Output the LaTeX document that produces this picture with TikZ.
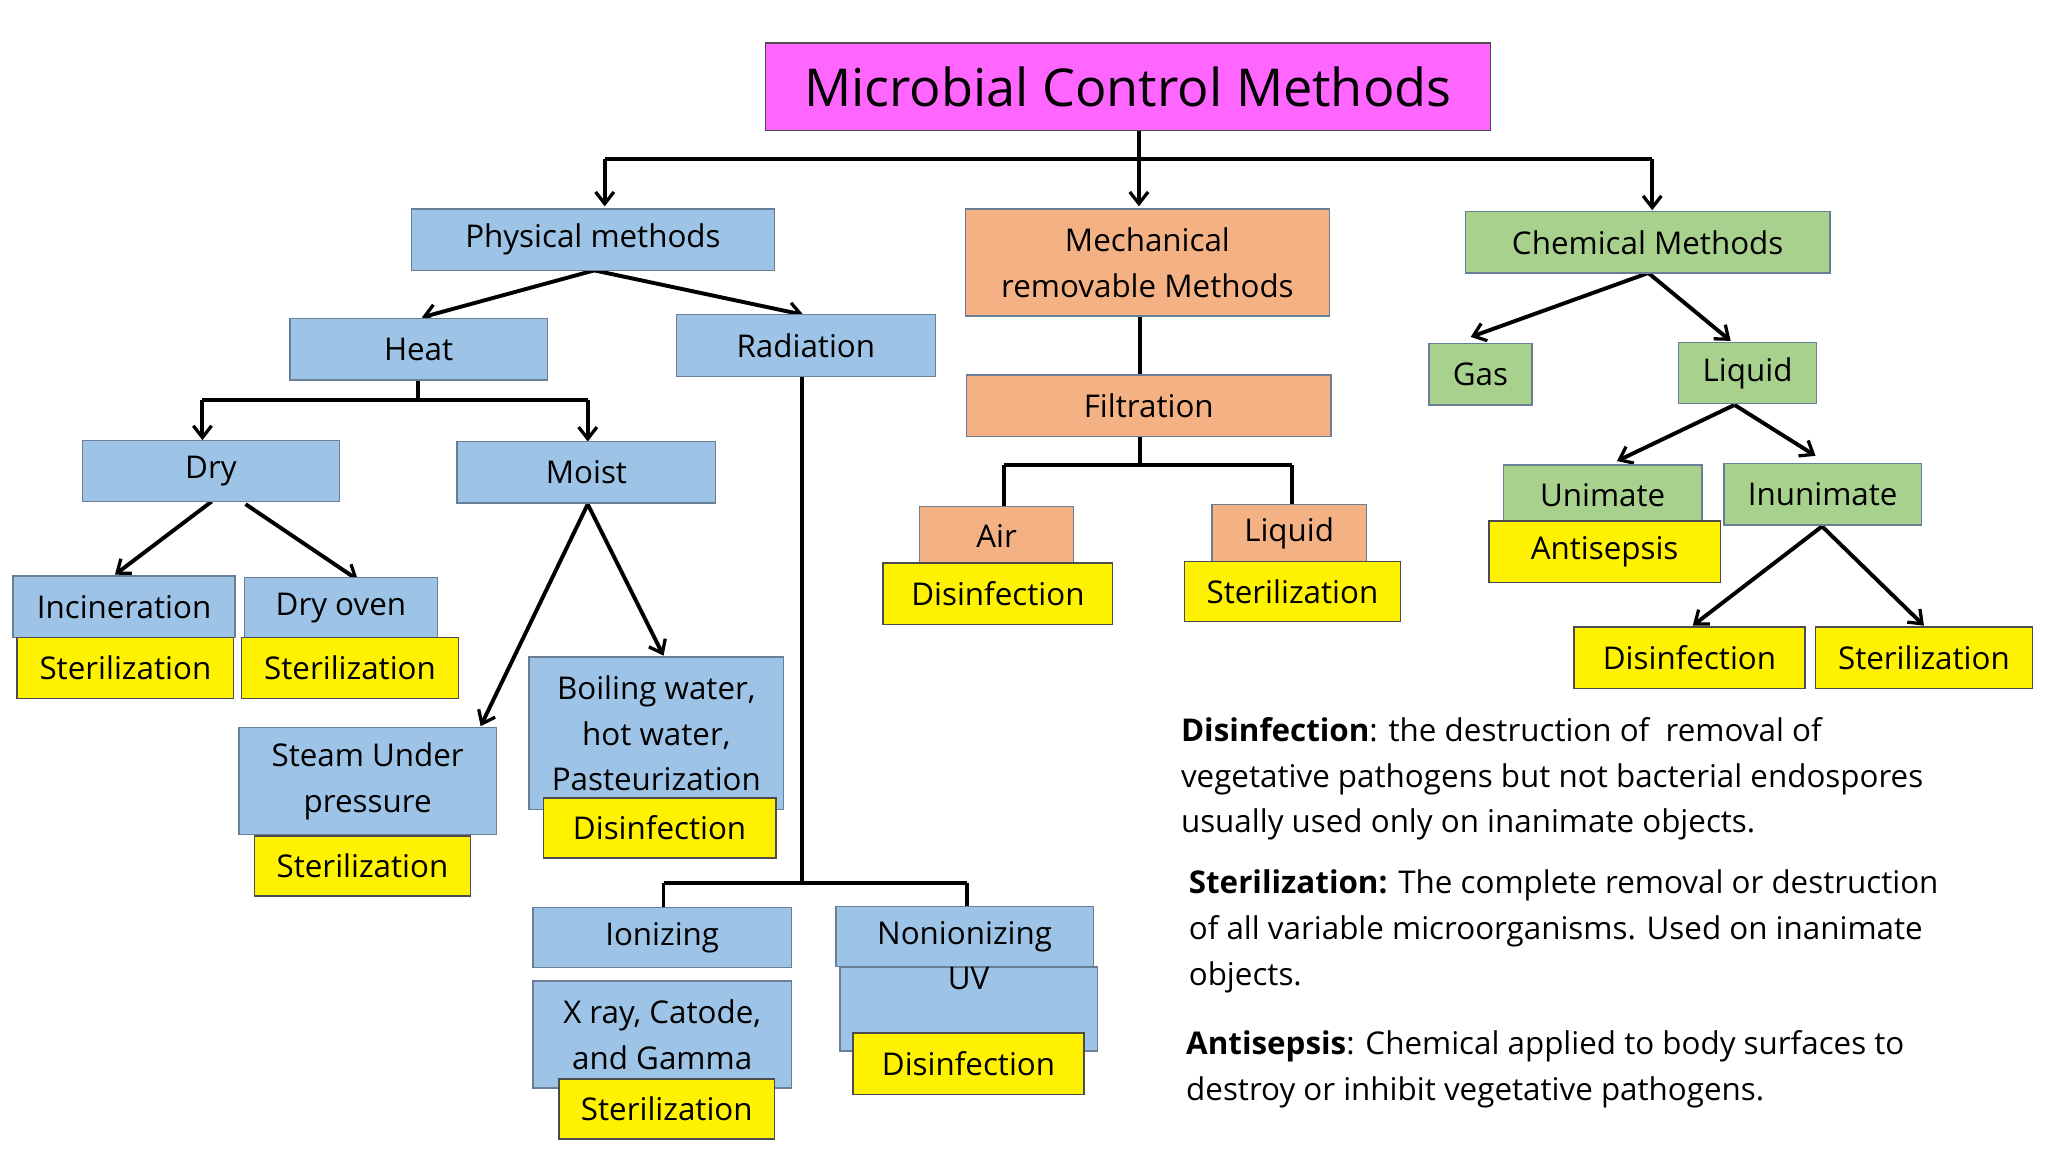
\documentclass[tikz,border=0pt]{standalone}
\usepackage{fontspec}
\setmainfont{Open Sans}
\usetikzlibrary{arrows.meta}
\definecolor{bl}{HTML}{9DC3E6}
\definecolor{og}{HTML}{F4B183}
\definecolor{gr}{HTML}{A9D18E}
\definecolor{mg}{HTML}{FF66FF}
\definecolor{bd}{HTML}{6A7F95}
\tikzset{
 box/.style={draw=bd,line width=1pt,inner sep=0pt,align=center,font=\fontsize{24}{35}\selectfont},
 B/.style={box,fill=bl}, O/.style={box,fill=og}, G/.style={box,fill=gr},
 Y/.style={box,fill=yellow,draw=black!70},
 M/.style={box,fill=mg,draw=black!70,font=\fontsize{40}{48}\selectfont},
 ln/.style={line width=3pt,black},
 arr/.style={ln,-{Straight Barb[length=9pt,width=14pt,line width=2.5pt]}},
 def/.style={anchor=north west,align=left,inner sep=0pt,font=\fontsize{24}{35}\selectfont}
}
\newcommand\bx[7]{\node[#6,minimum width={(#4-#2)*1pt},minimum height={(#5-#3)*1pt}] (#1) at ({(#2+#4)/2},{(#3+#5)/2}) {#7};}
\begin{document}
\begin{tikzpicture}[x=1pt,y=-1pt]
\useasboundingbox[fill=white] (0,0) rectangle (1568,882);
% connectors
\coordinate (t1) at (463,122); \coordinate (t2) at (1265,122);
\draw[ln] (872,100) coordinate (ts) -- (872,122);
\draw[ln] (t1) -- (t2);
\draw[arr] (t1) -- (463,158) coordinate (pA);
\draw[arr] (872,122) -- (872,158) coordinate (mA);
\draw[arr] (t2) -- (1265,161) coordinate (cA);
\coordinate (ps) at (455,207);
\draw[arr] (ps) -- (323,243) coordinate (hA);
\draw[arr] (ps) -- (615,241) coordinate (rA);
\draw[ln] (320,291) coordinate (hs) -- (320,306) coordinate (hb);
\draw[ln] (155,306) coordinate (hL) -- (450,306) coordinate (hR);
\draw[arr] (hL) -- (155,337) coordinate (dA);
\draw[arr] (hR) -- (450,338) coordinate (mo);
\coordinate (ds) at (162,384);
\draw[arr] (ds) -- (88,440); \draw[arr] (188,386) -- (274,444);
\coordinate (ms) at (450,386);
\draw[arr] (ms) -- (368,556); \draw[arr] (ms) -- (508,502);
\draw[ln] (614,288) coordinate (rs) -- (614,676) coordinate (rb);
\draw[ln] (508,676) coordinate (rL) -- (740,676) coordinate (rR);
\draw[ln] (rL) -- (508,696); \draw[ln] (rR) -- (740,695);
\draw[ln] (873,242) coordinate (mes) -- (873,287) coordinate (fA);
\draw[ln] (873,334) coordinate (fs) -- (873,356);
\draw[ln] (769,356) coordinate (fL) -- (989,356) coordinate (fR);
\draw[ln] (fL) -- (769,389); \draw[ln] (fR) -- (989,387);
\coordinate (cs) at (1262,209);
\draw[arr] (cs) -- (1126,258); \draw[arr] (cs) -- (1325,261);
\coordinate (ls) at (1328,310);
\draw[arr] (ls) -- (1238,353); \draw[arr] (ls) -- (1390,349);
\coordinate (is) at (1395,403);
\draw[arr] (is) -- (1296,479); \draw[arr] (is) -- (1473,479);
% boxes
\bx{title}{586}{33}{1141}{100}{M}{Microbial Control Methods}
\bx{phys}{315}{160}{593}{207}{B}{Physical methods}
\bx{mech}{739}{160}{1018}{242}{O}{Mechanical\\removable Methods}
\bx{chem}{1122}{162}{1401}{209}{G}{Chemical Methods}
\bx{heat}{222}{244}{419}{291}{B}{Heat}
\bx{rad}{518}{241}{716}{288}{B}{Radiation}
\bx{dry}{63}{337}{260}{384}{B}{Dry}
\bx{moist}{350}{338}{548}{385}{B}{Moist}
\bx{inc}{10}{441}{180}{488}{B}{Incineration}
\bx{incS}{13}{488}{179}{535}{Y}{Sterilization}
\bx{oven}{187}{442}{335}{489}{B}{Dry oven}
\bx{ovenS}{185}{488}{351}{535}{Y}{Sterilization}
\bx{steam}{183}{557}{380}{639}{B}{Steam Under\\pressure}
\bx{steamS}{195}{640}{360}{686}{Y}{Sterilization}
\bx{boil}{405}{503}{600}{620}{B}{Boiling water,\\hot water,\\Pasteurization}
\bx{boilD}{416}{611}{594}{657}{Y}{Disinfection}
\bx{filt}{740}{287}{1019}{334}{O}{Filtration}
\bx{air}{704}{388}{822}{433}{O}{Air}
\bx{airD}{676}{431}{852}{478}{Y}{Disinfection}
\bx{liq}{928}{386}{1046}{431}{O}{Liquid}
\bx{liqS}{907}{430}{1072}{476}{Y}{Sterilization}
\bx{gas}{1094}{263}{1173}{310}{G}{Gas}
\bx{cliq}{1285}{262}{1391}{309}{G}{Liquid}
\bx{uni}{1151}{356}{1303}{402}{G}{Unimate}
\bx{uniA}{1140}{399}{1317}{446}{Y}{Antisepsis}
\bx{inu}{1320}{355}{1471}{402}{G}{Inunimate}
\bx{inuD}{1205}{480}{1382}{527}{Y}{Disinfection}
\bx{inuS}{1390}{480}{1556}{527}{Y}{Sterilization}
\bx{ion}{408}{695}{606}{741}{B}{Ionizing}
\bx{xray}{408}{751}{606}{833}{B}{X ray, Catode,\\and Gamma}
\bx{xrayS}{428}{826}{593}{872}{Y}{Sterilization}
\bx{non}{640}{694}{837}{740}{B}{Nonionizing}
\bx{uv}{643}{749}{840}{796}{B}{\raisebox{2pt}{UV}\\[10pt]}
\bx{uvD}{653}{791}{830}{838}{Y}{Disinfection}
% definitions
\node[def] (d1) at (904,549) {\textbf{Disinfection}: the destruction of\ \ removal of\\vegetative pathogens but not bacterial endospores\\usually used only on inanimate objects.};
\node[def] (d2) at (910,666) {\textbf{Sterilization:} The complete removal or destruction\\of all variable microorganisms. Used on inanimate\\objects.};
\node[def] (d3) at (908,789) {\textbf{Antisepsis}: Chemical applied to body surfaces to\\destroy or inhibit vegetative pathogens.};
\end{tikzpicture}
\end{document}
